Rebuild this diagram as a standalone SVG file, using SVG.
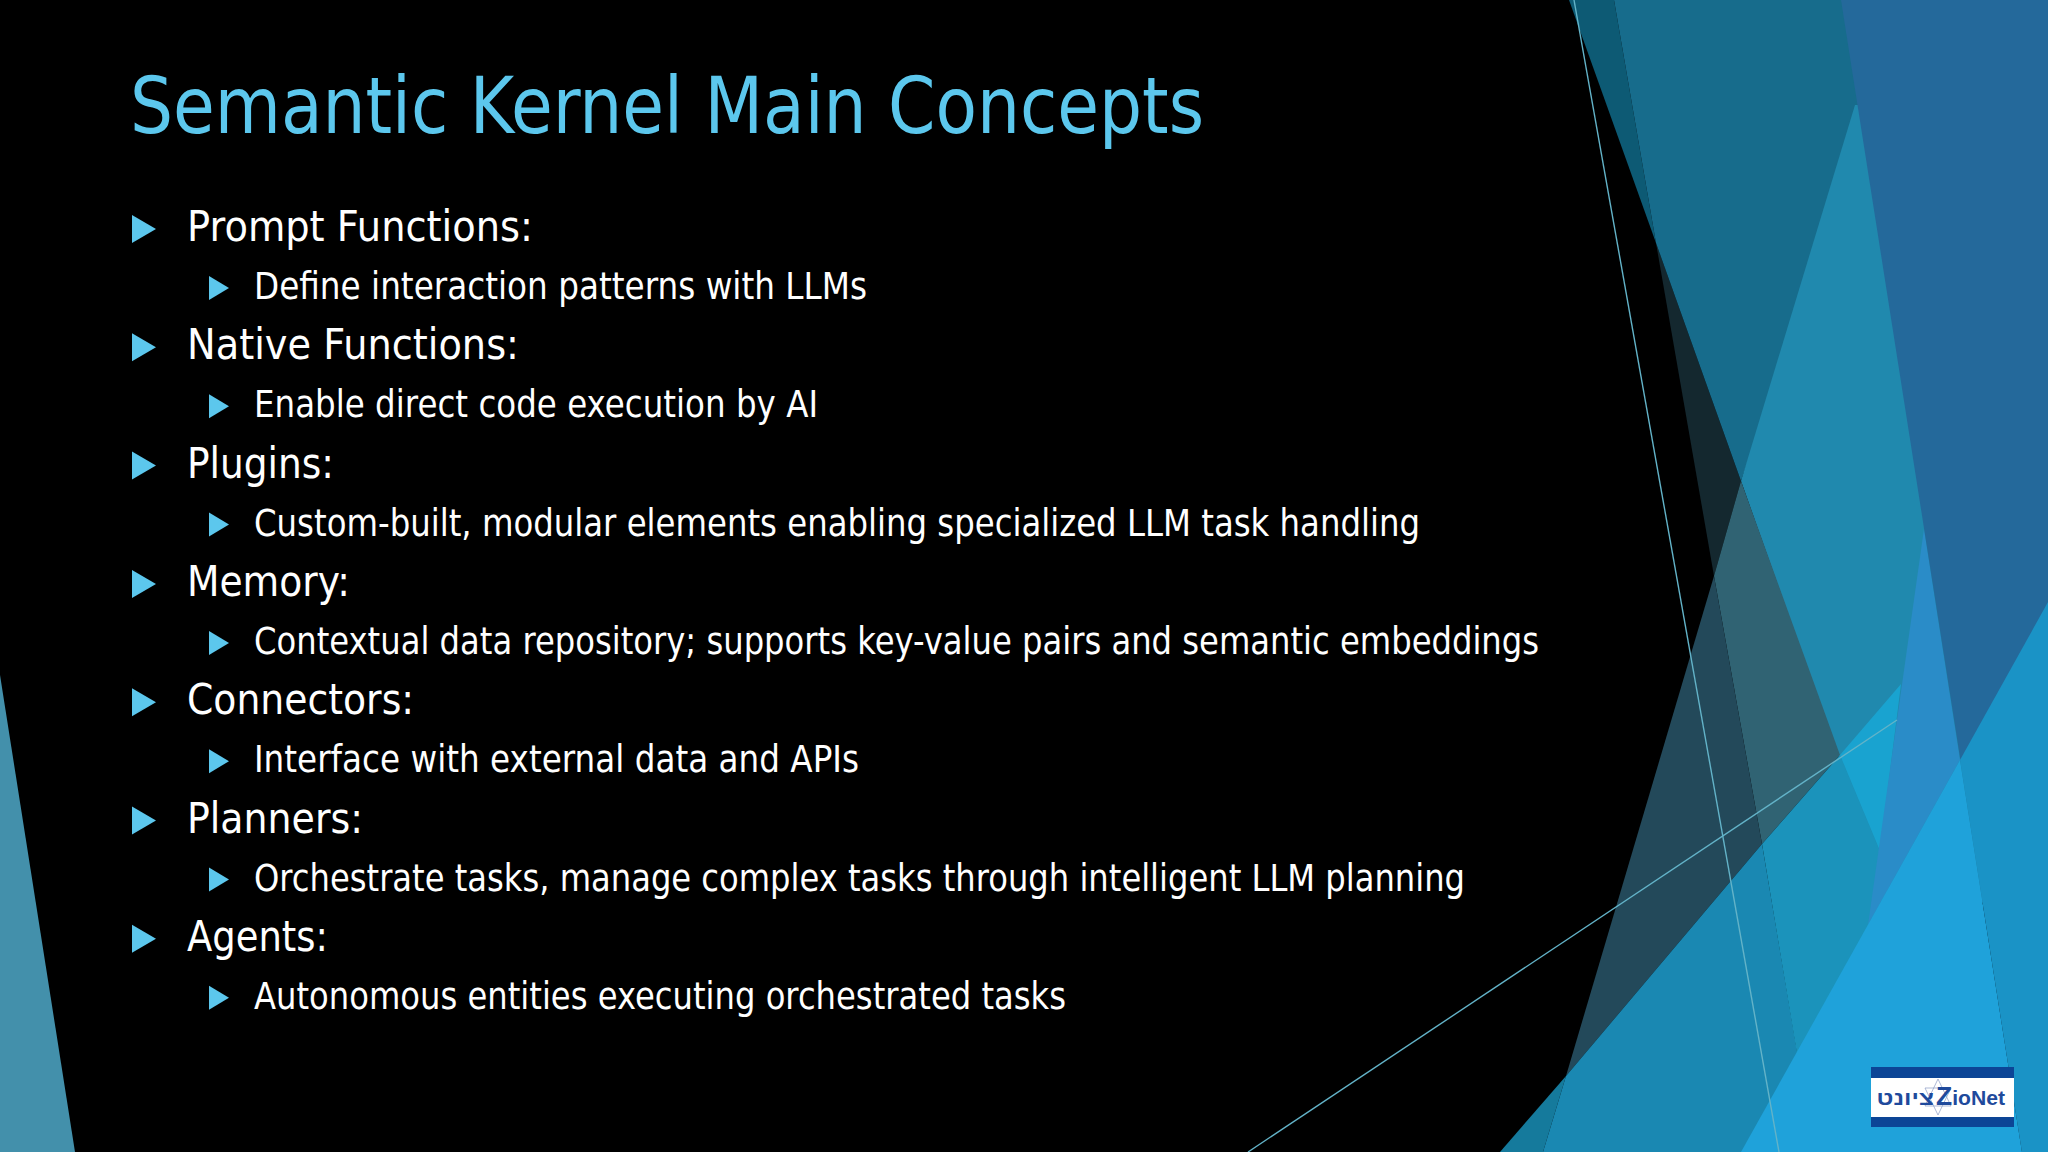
<svg xmlns="http://www.w3.org/2000/svg" width="2048" height="1152" viewBox="0 0 2048 1152">
<style>
text{font-family:"DejaVu Sans","Liberation Sans",sans-serif}
.t{font-size:78px;fill:#5cc7ed}
.l1{font-size:43px;fill:#fff}
.l2{font-size:36.5px;fill:#fff}
.b{fill:#5cc7ed}
.ln{fill:none;stroke:#63b3c8;stroke-width:1.4}
.lg{font-family:"Liberation Sans",sans-serif;font-weight:700;fill:#1f4a9c}
</style>
<defs>
<polygon id="b1" points="132,215 156,229 132,243"/>
<polygon id="b2" points="209,276 229,288 209,300"/>
</defs>
<rect width="2048" height="1152" fill="#000"/>
<g id="backdrop">
<polygon points="0,675 75,1152 0,1152" fill="#4390ab"/>
<polygon points="1569,0 1614,0 1656,243" fill="#0d5a74"/>
<polygon points="1656,243 1741,481 1714,576" fill="#14282f"/>
<polygon points="1614,0 1886,0 1870,105 1741,481 1656,243" fill="#176c8c"/>
<polygon points="1855,105 1741,481 1900,930 1990,900 1990,105" fill="#2089ae"/>
<polygon points="1741,481 1714,576 1762,844 1840,755" fill="#306373"/>
<polygon points="1714,576 1566,1076 1762,844" fill="#23495a"/>
<polygon points="1566,1076 1500,1152 1543,1152" fill="#157a9c"/>
<polygon points="1566,1076 1543,1152 1814,1152 1762,844" fill="#1a88b2"/>
<polygon points="1762,844 1840,755 1880,851 1895,925 1798,1060" fill="#1b93bb"/>
<polygon points="1840,755 1901,684 1880,851" fill="#19a3d0"/>
<polygon points="1924,529 1868,925 1960,760" fill="#2a8cc8"/>
<polygon points="1841,0 2048,0 2048,1152 2022,1152" fill="#24699b"/>
<polygon points="1741,1152 1960,760 2022,1152" fill="#1fa2da"/>
<polygon points="1960,760 2048,602 2048,1152 2022,1152" fill="#1a93c6"/>
<line class="ln" x1="1574" y1="0" x2="1779" y2="1152"/>
<line class="ln" x1="1248" y1="1152" x2="1897" y2="720"/>
</g>
<g id="logo">
<rect x="1871" y="1067" width="143" height="60" fill="#fff"/>
<rect x="1871" y="1067" width="143" height="11" fill="#0c4596"/>
<rect x="1871" y="1117" width="143" height="10" fill="#0c4596"/>
<g fill="none" stroke="#8b9bc4" stroke-width="0.7">
<polygon points="1938,1079 1951,1106 1925,1106"/>
<polygon points="1938,1115 1951,1088 1925,1088"/>
</g>
<text class="lg" transform="translate(1934,1105) scale(1.3,1)" font-size="19" direction="rtl">ציונט</text>
<text class="lg" x="1936" y="1105" textLength="69" lengthAdjust="spacingAndGlyphs"><tspan font-size="25">Z</tspan><tspan font-size="20">ioNet</tspan></text>
</g>
<g id="title"><text class="t" x="130" y="133" textLength="1074" lengthAdjust="spacingAndGlyphs">Semantic Kernel Main Concepts</text></g>
<g id="item-prompt-functions">
<use href="#b1" class="b"/><text class="l1" x="187" y="241" textLength="346" lengthAdjust="spacingAndGlyphs">Prompt Functions:</text>
<use href="#b2" class="b"/><text class="l2" x="254" y="299" textLength="613" lengthAdjust="spacingAndGlyphs">Define interaction patterns with LLMs</text>
</g>
<g id="item-native-functions" >
<use href="#b1" class="b" y="118.3"/><text class="l1" x="187" y="359.3" textLength="332" lengthAdjust="spacingAndGlyphs">Native Functions:</text>
<use href="#b2" class="b" y="118.3"/><text class="l2" x="254" y="417.3" textLength="564" lengthAdjust="spacingAndGlyphs">Enable direct code execution by AI</text>
</g>
<g id="item-plugins">
<use href="#b1" class="b" y="236.6"/><text class="l1" x="187" y="477.6" textLength="147" lengthAdjust="spacingAndGlyphs">Plugins:</text>
<use href="#b2" class="b" y="236.6"/><text class="l2" x="254" y="535.6" textLength="1166" lengthAdjust="spacingAndGlyphs">Custom-built, modular elements enabling specialized LLM task handling</text>
</g>
<g id="item-memory">
<use href="#b1" class="b" y="354.9"/><text class="l1" x="187" y="595.9" textLength="163" lengthAdjust="spacingAndGlyphs">Memory:</text>
<use href="#b2" class="b" y="354.9"/><text class="l2" x="254" y="653.9" textLength="1285" lengthAdjust="spacingAndGlyphs">Contextual data repository; supports key-value pairs and semantic embeddings</text>
</g>
<g id="item-connectors">
<use href="#b1" class="b" y="473.2"/><text class="l1" x="187" y="714.2" textLength="227" lengthAdjust="spacingAndGlyphs">Connectors:</text>
<use href="#b2" class="b" y="473.2"/><text class="l2" x="254" y="772.2" textLength="605" lengthAdjust="spacingAndGlyphs">Interface with external data and APIs</text>
</g>
<g id="item-planners">
<use href="#b1" class="b" y="591.5"/><text class="l1" x="187" y="832.5" textLength="176" lengthAdjust="spacingAndGlyphs">Planners:</text>
<use href="#b2" class="b" y="591.5"/><text class="l2" x="254" y="890.5" textLength="1211" lengthAdjust="spacingAndGlyphs">Orchestrate tasks, manage complex tasks through intelligent LLM planning</text>
</g>
<g id="item-agents">
<use href="#b1" class="b" y="709.8"/><text class="l1" x="187" y="950.8" textLength="141" lengthAdjust="spacingAndGlyphs">Agents:</text>
<use href="#b2" class="b" y="709.8"/><text class="l2" x="254" y="1008.8" textLength="812" lengthAdjust="spacingAndGlyphs">Autonomous entities executing orchestrated tasks</text>
</g>
</svg>
